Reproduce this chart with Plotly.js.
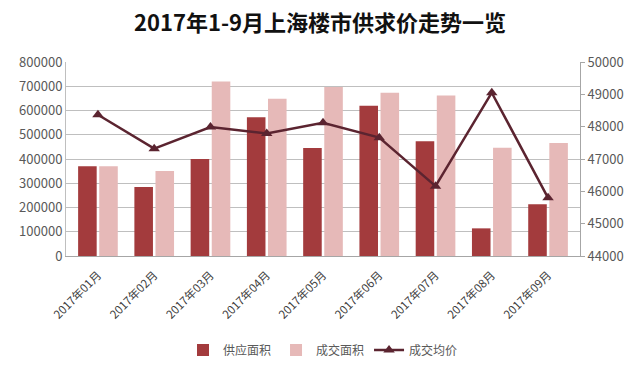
<!DOCTYPE html>
<html>
<head>
<meta charset="utf-8">
<script src="https://cdn.plot.ly/plotly-3.0.1.min.js"></script>
<style>html,body{margin:0;padding:0;background:#fff;}#chart{width:640px;height:366px;}</style>
</head>
<body>
<div id="chart"></div>
<script>
const months = ["2017年01月","2017年02月","2017年03月","2017年04月","2017年05月","2017年06月","2017年07月","2017年08月","2017年09月"];
const supplyArea = [370000, 285000, 400000, 572000, 445000, 620000, 473000, 114000, 213000];
const dealArea = [370000, 351000, 720000, 648000, 697000, 673000, 662000, 446000, 466000];
const avgPrice = [48370, 47320, 47990, 47790, 48120, 47660, 46160, 49050, 45800];

const font = "'Noto Sans CJK SC', 'Noto Sans', sans-serif";
const traces = [
  {type:'bar', name:'供应面积', x:months, y:supplyArea, marker:{color:'#A33B3D'}},
  {type:'bar', name:'成交面积', x:months, y:dealArea, marker:{color:'#E6B9B8'}},
  {type:'scatter', mode:'lines+markers', name:'成交均价', x:months, y:avgPrice, yaxis:'y2',
   line:{color:'#5B2430', width:2.5}, marker:{symbol:'triangle-up', size:10, color:'#5B2430'}}
];
const layout = {
  width:640, height:366,
  margin:{l:66, r:60, t:62, b:110, autoexpand:false},
  paper_bgcolor:'#fff', plot_bgcolor:'#fff',
  font:{family:font, color:'#595959', size:12},
  title:{text:'<b>2017年1-9月上海楼市供求价走势一览</b>', x:0.5, xanchor:'center', y:0.935, yanchor:'middle',
         font:{family:font, size:22, color:'#111'}},
  barmode:'group', bargap:0.25, bargroupgap:0.12,
  showlegend:true,
  legend:{orientation:'h', x:0.5, xanchor:'center', y:-0.485, yanchor:'middle', font:{size:12, color:'#595959'}, traceorder:'normal'},
  xaxis:{tickangle:-45, showline:true, linecolor:'#A6A6A6', ticks:'', ticklabelstandoff:7, tickfont:{size:11.5, color:'#404040'}, automargin:false},
  yaxis:{range:[0,800000], dtick:100000, showgrid:true, gridcolor:'#BFBFBF', showline:true, linecolor:'#BFBFBF',
         zeroline:false, tickfont:{size:13, color:'#595959'}, ticks:'', tickformat:'d', automargin:false},
  yaxis2:{range:[44000,50000], dtick:1000, overlaying:'y', side:'right', showgrid:false, showline:true, linecolor:'#A6A6A6',
          ticks:'outside', ticklen:4, tickcolor:'#A6A6A6', tickfont:{size:13, color:'#595959'}, zeroline:false, tickformat:'d', automargin:false}
};
Plotly.newPlot('chart', traces, layout, {displayModeBar:false, staticPlot:true});
</script>
</body>
</html>
